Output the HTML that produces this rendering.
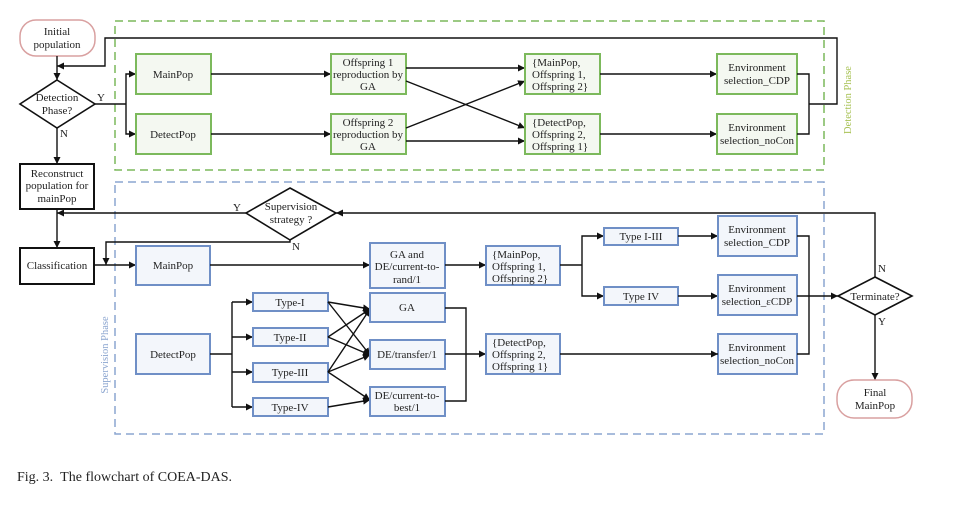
<!DOCTYPE html>
<html><head><meta charset="utf-8"><style>
html,body{margin:0;padding:0;background:#fff;}
svg{display:block;}
text{font-family:"Liberation Serif",serif;font-size:11px;fill:#222;}
.g{fill:#f4f8f1;stroke:#7cb95c;stroke-width:2;}
.b{fill:#f3f6fb;stroke:#6f8fc6;stroke-width:2;}
.k{fill:#fff;stroke:#111;stroke-width:2;}
.l{fill:none;stroke:#111;stroke-width:1.4;}
.la{fill:none;stroke:#111;stroke-width:1.4;marker-end:url(#a);}
</style></head><body>
<svg width="956" height="505" viewBox="0 0 956 505" xmlns="http://www.w3.org/2000/svg">
<defs><marker id="a" viewBox="0 0 10 10" refX="10" refY="5" markerWidth="7" markerHeight="7" orient="auto" markerUnits="userSpaceOnUse"><path d="M0,0L10,5L0,10z" fill="#111"/></marker></defs>

<rect x="115" y="21" width="709" height="149" fill="none" stroke="#7cb95c" stroke-width="1.5" stroke-dasharray="8,5"/>
<rect x="115" y="182" width="709" height="252" fill="none" stroke="#8ca6d0" stroke-width="1.5" stroke-dasharray="8,5"/>
<text x="851" y="100" transform="rotate(-90 851 100)" text-anchor="middle" style="fill:#a8c255;font-size:10.5px">Detection Phase</text>
<text x="108" y="355" transform="rotate(-90 108 355)" text-anchor="middle" style="fill:#8ca6d0;font-size:10.5px">Supervision Phase</text>

<rect x="20" y="20" width="75" height="36" rx="16" fill="#fff" stroke="#d9a0a0" stroke-width="1.5"/>
<text x="57" y="35" text-anchor="middle">Initial</text><text x="57" y="48" text-anchor="middle">population</text>
<line class="la" x1="57" y1="56" x2="57" y2="80"/>
<polygon class="k" points="57,80 95,104 57,128 20,104" style="stroke-width:1.6"/>
<text x="57" y="101" text-anchor="middle">Detection</text><text x="57" y="114" text-anchor="middle">Phase?</text>
<text x="97" y="101">Y</text><text x="60" y="137">N</text>
<line class="la" x1="57" y1="128" x2="57" y2="164"/>
<rect class="k" x="20" y="164" width="74" height="45"/>
<text x="57" y="177" text-anchor="middle">Reconstruct</text><text x="57" y="189" text-anchor="middle">population for</text><text x="57" y="202" text-anchor="middle">mainPop</text>
<line class="la" x1="57" y1="209" x2="57" y2="248"/>
<rect class="k" x="20" y="248" width="74" height="36"/>
<text x="57" y="269" text-anchor="middle">Classification</text>

<polyline class="l" points="95,104 126,104"/>
<polyline class="la" points="126,104 126,74 136,74"/>
<polyline class="la" points="126,104 126,134 136,134"/>
<rect class="g" x="136" y="54" width="75" height="40"/><text x="173" y="78" text-anchor="middle">MainPop</text>
<rect class="g" x="136" y="114" width="75" height="40"/><text x="173" y="138" text-anchor="middle">DetectPop</text>
<line class="la" x1="211" y1="74" x2="331" y2="74"/>
<line class="la" x1="211" y1="134" x2="331" y2="134"/>
<rect class="g" x="331" y="54" width="75" height="40"/>
<text x="368" y="66" text-anchor="middle">Offspring 1</text><text x="368" y="78" text-anchor="middle">reproduction by</text><text x="368" y="90" text-anchor="middle">GA</text>
<rect class="g" x="331" y="114" width="75" height="40"/>
<text x="368" y="126" text-anchor="middle">Offspring 2</text><text x="368" y="138" text-anchor="middle">reproduction by</text><text x="368" y="150" text-anchor="middle">GA</text>
<line class="la" x1="406" y1="68" x2="525" y2="68"/>
<line class="la" x1="406" y1="81" x2="525" y2="128"/>
<line class="la" x1="406" y1="128" x2="525" y2="81"/>
<line class="la" x1="406" y1="141" x2="525" y2="141"/>
<rect class="g" x="525" y="54" width="75" height="40"/>
<text x="532" y="66">{MainPop,</text><text x="532" y="78">Offspring 1,</text><text x="532" y="90">Offspring 2}</text>
<rect class="g" x="525" y="114" width="75" height="40"/>
<text x="532" y="126">{DetectPop,</text><text x="532" y="138">Offspring 2,</text><text x="532" y="150">Offspring 1}</text>
<line class="la" x1="600" y1="74" x2="717" y2="74"/>
<line class="la" x1="600" y1="134" x2="717" y2="134"/>
<rect class="g" x="717" y="54" width="80" height="40"/>
<text x="757" y="71" text-anchor="middle">Environment</text><text x="757" y="84" text-anchor="middle">selection_CDP</text>
<rect class="g" x="717" y="114" width="80" height="40"/>
<text x="757" y="131" text-anchor="middle">Environment</text><text x="757" y="144" text-anchor="middle">selection_noCon</text>
<polyline class="l" points="797,74 809,74 809,134 797,134"/>
<polyline class="la" points="809,104 837,104 837,38 105,38 105,66 57,66"/>

<polygon class="k" points="290,188 336,213 290,240 246,213" style="stroke-width:1.6"/>
<text x="291" y="210" text-anchor="middle">Supervision</text><text x="291" y="223" text-anchor="middle">strategy ?</text>
<text x="233" y="211">Y</text><text x="292" y="250">N</text>
<line class="la" x1="246" y1="213" x2="57" y2="213"/>
<polyline class="la" points="875,277 875,213 336,213"/>
<polyline class="la" points="290,240 290,242 106,242 106,265"/>
<line class="la" x1="94" y1="265" x2="136" y2="265"/>
<rect class="b" x="136" y="246" width="74" height="39"/><text x="173" y="269" text-anchor="middle">MainPop</text>
<line class="la" x1="210" y1="265" x2="370" y2="265"/>
<rect class="b" x="370" y="243" width="75" height="45"/>
<text x="407" y="258" text-anchor="middle">GA and</text><text x="407" y="270" text-anchor="middle">DE/current-to-</text><text x="407" y="283" text-anchor="middle">rand/1</text>
<line class="la" x1="445" y1="265" x2="486" y2="265"/>
<rect class="b" x="486" y="246" width="74" height="39"/>
<text x="492" y="258">{MainPop,</text><text x="492" y="270">Offspring 1,</text><text x="492" y="282">Offspring 2}</text>
<polyline class="l" points="560,265 582,265"/>
<polyline class="la" points="582,265 582,236 604,236"/>
<polyline class="la" points="582,265 582,296 604,296"/>
<rect class="b" x="604" y="228" width="74" height="17"/><text x="641" y="240" text-anchor="middle">Type I-III</text>
<rect class="b" x="604" y="287" width="74" height="18"/><text x="641" y="300" text-anchor="middle">Type IV</text>
<line class="la" x1="678" y1="236" x2="718" y2="236"/>
<line class="la" x1="678" y1="296" x2="718" y2="296"/>
<rect class="b" x="718" y="216" width="79" height="40"/>
<text x="757" y="233" text-anchor="middle">Environment</text><text x="757" y="246" text-anchor="middle">selection_CDP</text>
<rect class="b" x="718" y="275" width="79" height="40"/>
<text x="757" y="292" text-anchor="middle">Environment</text><text x="757" y="305" text-anchor="middle">selection_εCDP</text>
<rect class="b" x="718" y="334" width="79" height="40"/>
<text x="757" y="351" text-anchor="middle">Environment</text><text x="757" y="364" text-anchor="middle">selection_noCon</text>
<polyline class="l" points="797,236 809,236 809,354 797,354"/>
<line class="la" x1="797" y1="296" x2="838" y2="296"/>
<polygon class="k" points="875,277 912,296 875,315 838,296" style="stroke-width:1.6"/>
<text x="875" y="300" text-anchor="middle">Terminate?</text>
<text x="878" y="272">N</text><text x="878" y="325">Y</text>
<line class="la" x1="875" y1="315" x2="875" y2="380"/>
<rect x="837" y="380" width="75" height="38" rx="17" fill="#fff" stroke="#d9a0a0" stroke-width="1.5"/>
<text x="875" y="396" text-anchor="middle">Final</text><text x="875" y="409" text-anchor="middle">MainPop</text>

<rect class="b" x="136" y="334" width="74" height="40"/><text x="173" y="358" text-anchor="middle">DetectPop</text>
<polyline class="l" points="210,354 232,354"/>
<line class="l" x1="232" y1="302" x2="232" y2="407"/>
<line class="la" x1="232" y1="302" x2="253" y2="302"/>
<line class="la" x1="232" y1="337" x2="253" y2="337"/>
<line class="la" x1="232" y1="372" x2="253" y2="372"/>
<line class="la" x1="232" y1="407" x2="253" y2="407"/>
<rect class="b" x="253" y="293" width="75" height="18"/><text x="290" y="306" text-anchor="middle">Type-I</text>
<rect class="b" x="253" y="328" width="75" height="18"/><text x="290" y="341" text-anchor="middle">Type-II</text>
<rect class="b" x="253" y="363" width="75" height="19"/><text x="290" y="376" text-anchor="middle">Type-III</text>
<rect class="b" x="253" y="398" width="75" height="18"/><text x="290" y="411" text-anchor="middle">Type-IV</text>
<line class="la" x1="328" y1="302" x2="370" y2="309"/>
<line class="la" x1="328" y1="302" x2="370" y2="355"/>
<line class="la" x1="328" y1="337" x2="370" y2="309"/>
<line class="la" x1="328" y1="337" x2="370" y2="355"/>
<line class="la" x1="328" y1="372" x2="370" y2="309"/>
<line class="la" x1="328" y1="372" x2="370" y2="355"/>
<line class="la" x1="328" y1="372" x2="370" y2="400"/>
<line class="la" x1="328" y1="407" x2="370" y2="400"/>
<rect class="b" x="370" y="293" width="75" height="29"/><text x="407" y="311" text-anchor="middle">GA</text>
<rect class="b" x="370" y="340" width="75" height="29"/><text x="407" y="358" text-anchor="middle">DE/transfer/1</text>
<rect class="b" x="370" y="387" width="75" height="29"/>
<text x="407" y="399" text-anchor="middle">DE/current-to-</text><text x="407" y="411" text-anchor="middle">best/1</text>
<polyline class="l" points="445,308 466,308 466,401 445,401"/>
<line class="la" x1="445" y1="354" x2="486" y2="354"/>
<rect class="b" x="486" y="334" width="74" height="40"/>
<text x="492" y="346">{DetectPop,</text><text x="492" y="358">Offspring 2,</text><text x="492" y="370">Offspring 1}</text>
<line class="la" x1="560" y1="354" x2="718" y2="354"/>

<text x="17" y="481" style="font-size:14px">Fig. 3.&#160;&#160;The flowchart of COEA-DAS.</text>
</svg>
</body></html>
